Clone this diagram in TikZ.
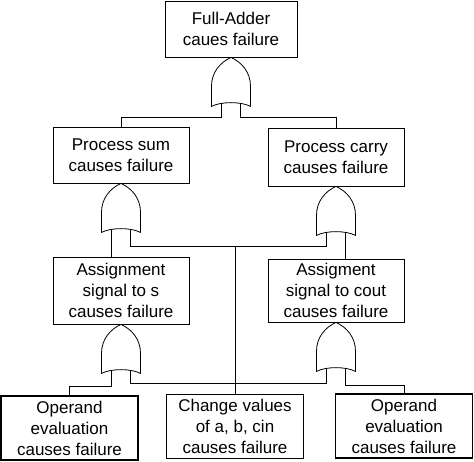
\documentclass[tikz,border=0pt]{standalone}
\usepackage{fontspec}
\setmainfont{Liberation Sans}
\usetikzlibrary{positioning}
\tikzset{event/.style={%
  draw,
  line width=0.8pt,
  minimum width=136pt,
  minimum height=56pt,
  inner sep=0pt,
  align=center,
  font=\fontsize{17}{21}\selectfont
}}
\tikzset{basic/.style={%
  event,
  line width=1.3pt,
  minimum width=137pt,
  minimum height=64pt
}}
\tikzset{orgate/.pic={%
  \draw (0,0) .. controls (11,5) and (19.5,15) .. (19.5,29) -- (19.5,49)
    .. controls (10,44) and (-10,44) .. (-19.5,49) -- (-19.5,29)
    .. controls (-19.5,15) and (-11,5) .. (0,0);
  \coordinate (-l) at (-9.5,45.5);
  \coordinate (-r) at (9.5,45.5);
}}

\begin{document}
\begin{tikzpicture}[x=1pt, y=-1pt, line width=0.8pt]
      \useasboundingbox (0,0) rectangle (474,462);
      \node[event, minimum width=132pt] (top) at (231,29) {Full-Adder\\caues failure};
      \node[event] (sum) at (121,155) {Process sum\\causes failure};
      \node[event, minimum height=58pt] (carry) at (336,157) {Process carry\\causes failure};
      \node[event, minimum height=67pt] (asgs) at (121,290.5) {Assignment\\signal to s\\causes failure};
      \node[event, minimum height=63pt] (asgc) at (336,290.5) {Assigment\\signal to cout\\causes failure};
      \node[basic] (opl) at (69.5,428) {Operand\\evaluation\\causes failure};
      \node[basic] (chg) at (235,426.5) {Change values\\of a, b, cin\\causes failure};
      \node[basic] (opr) at (404,426) {Operand\\evaluation\\causes failure};
      % or gates under each event
      \pic (g0) at (top.south) {orgate};
      \pic (g1) at (sum.south) {orgate};
      \pic (g2) at (carry.south) {orgate};
      \pic (g3) at (asgs.south) {orgate};
      \pic (g4) at (asgc.south) {orgate};
      \draw (g0-l) -- ++(0,15) -| (sum.north);
      \draw (g0-r) -- ++(0,15) -| (carry.north);
      \draw (g1-l) -- (g1-l |- asgs.north);
      \draw (g1-r) -- ++(0,18) coordinate (j1) -| (g2-l);
      \draw (g2-r) -- (g2-r |- asgc.north);
      \draw (chg.north) -- (chg.north |- j1);
      \draw (g3-l) -- ++(0,16) -| (opl.north);
      \draw (g3-r) -- ++(0,13) -| (g4-l);
      \draw (g4-r) -- ++(0,17) -| (opr.north);
    \end{tikzpicture}
\end{document}
